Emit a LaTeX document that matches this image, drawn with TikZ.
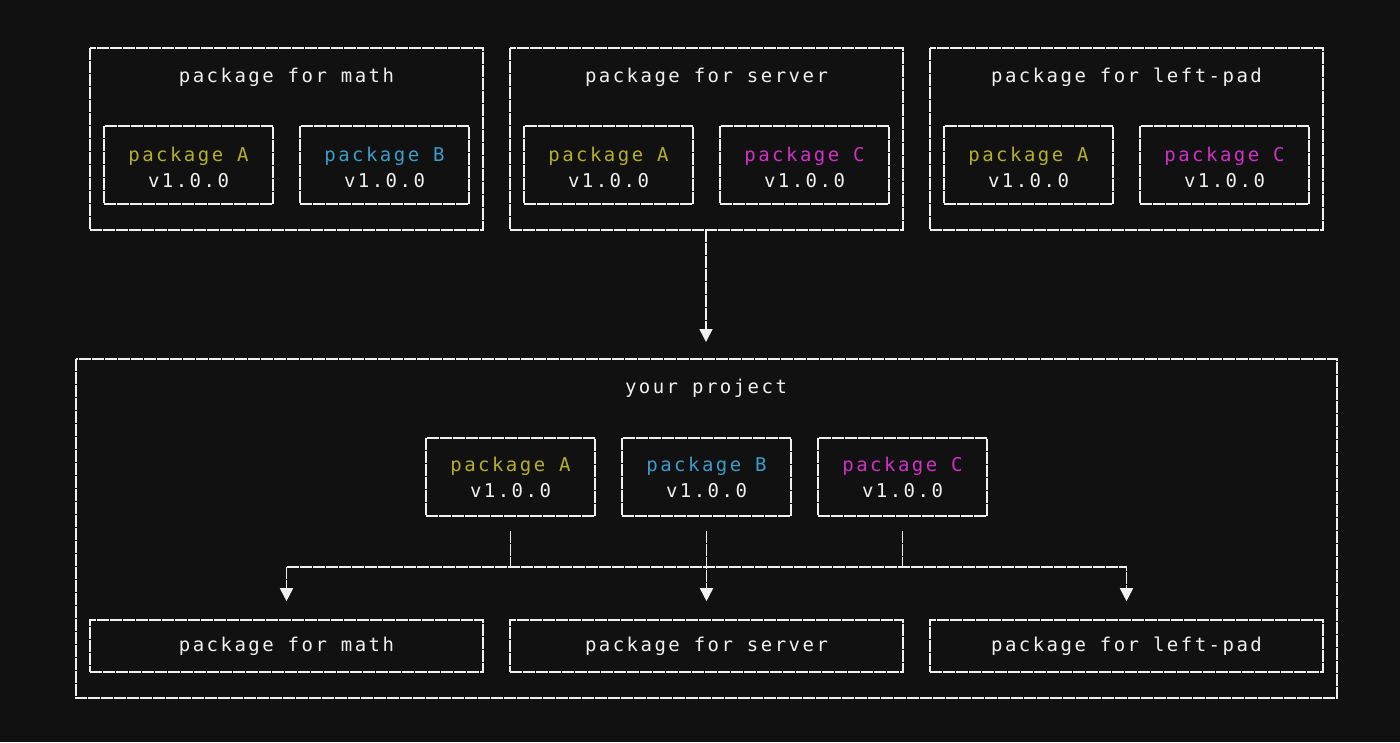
\documentclass[tikz,border=0pt]{standalone}
\usepackage{fontspec}
\setmonofont[LetterSpace=13]{DejaVu Sans Mono}
\usetikzlibrary{arrows.meta}
\definecolor{bg}{HTML}{111111}
\definecolor{fg}{HTML}{F0F0F0}
\definecolor{pkga}{HTML}{B5AE2C}
\definecolor{pkgb}{HTML}{3A9CC8}
\definecolor{pkgc}{HTML}{D030C8}
\begin{document}
\begin{tikzpicture}[x=1pt, y=-1pt, font=\ttfamily\fontsize{19}{26}\selectfont,
  frame/.style={draw=fg, line width=1.6pt, dash pattern=on 12pt off 1pt},
  label/.style={text=fg, align=center, inner sep=0pt},
  wire/.style={draw=fg, line width=1.6pt, dash pattern=on 12pt off 1pt},
  flow/.style={wire, -{Triangle[width=13pt, length=13pt]}},
]
\fill[bg] (0,0) rectangle (1400,742);
\useasboundingbox (0,0) rectangle (1400,742);

% top row
\foreach \x/\name/\title/\cb/\lb in {90/math/math/pkgb/B, 510/server/server/pkgc/C, 930/leftpad/left-pad/pkgc/C} {
  \draw[frame] (\x,48) rectangle +(393,182);
  \node[label] at (\x+196.5,77) {package for \title};
  \draw[frame] (\x+14,126) rectangle +(169,78);
  \node[label] at (\x+98.5,167) {\textcolor{pkga}{package A}\\v1.0.0};
  \draw[frame] (\x+210,126) rectangle +(169,78);
  \node[label] at (\x+294.5,167) {\textcolor{\cb}{package \lb}\\v1.0.0};
}
\coordinate (server) at (706,230);
\coordinate (project) at (706,342);
\draw[flow] (server) -- (project);

% project
\draw[frame] (76,359) rectangle (1337,698);
\node[label] at (706,388) {your project};
\node[frame, label, minimum width=169pt, minimum height=78pt] (pa) at (510.5,477) {\textcolor{pkga}{package A}\\v1.0.0};
\node[frame, label, minimum width=169pt, minimum height=78pt] (pb) at (706.5,477) {\textcolor{pkgb}{package B}\\v1.0.0};
\node[frame, label, minimum width=169pt, minimum height=78pt] (pc) at (902.5,477) {\textcolor{pkgc}{package C}\\v1.0.0};

\node[frame, label, minimum width=393pt, minimum height=52pt] (math) at (286.5,646) {\raisebox{-2pt}{package for math}};
\node[frame, label, minimum width=393pt, minimum height=52pt] (srv) at (706.5,646) {\raisebox{-2pt}{package for server}};
\node[frame, label, minimum width=393pt, minimum height=52pt] (lpad) at (1126.5,646) {\raisebox{-2pt}{package for left-pad}};

\draw[wire] ([yshift=-14pt]pa.south) -- (510.5,567);
\draw[wire] ([yshift=-14pt]pc.south) -- (902.5,567);
\draw[flow] ([yshift=-14pt]pb.south) -- ([yshift=18pt]srv.north);
\draw[flow] (286.5,567) -- (1126.5,567) -- ([yshift=18pt]lpad.north);
\draw[flow] (286.5,567) -- ([yshift=18pt]math.north);
\end{tikzpicture}
\end{document}
